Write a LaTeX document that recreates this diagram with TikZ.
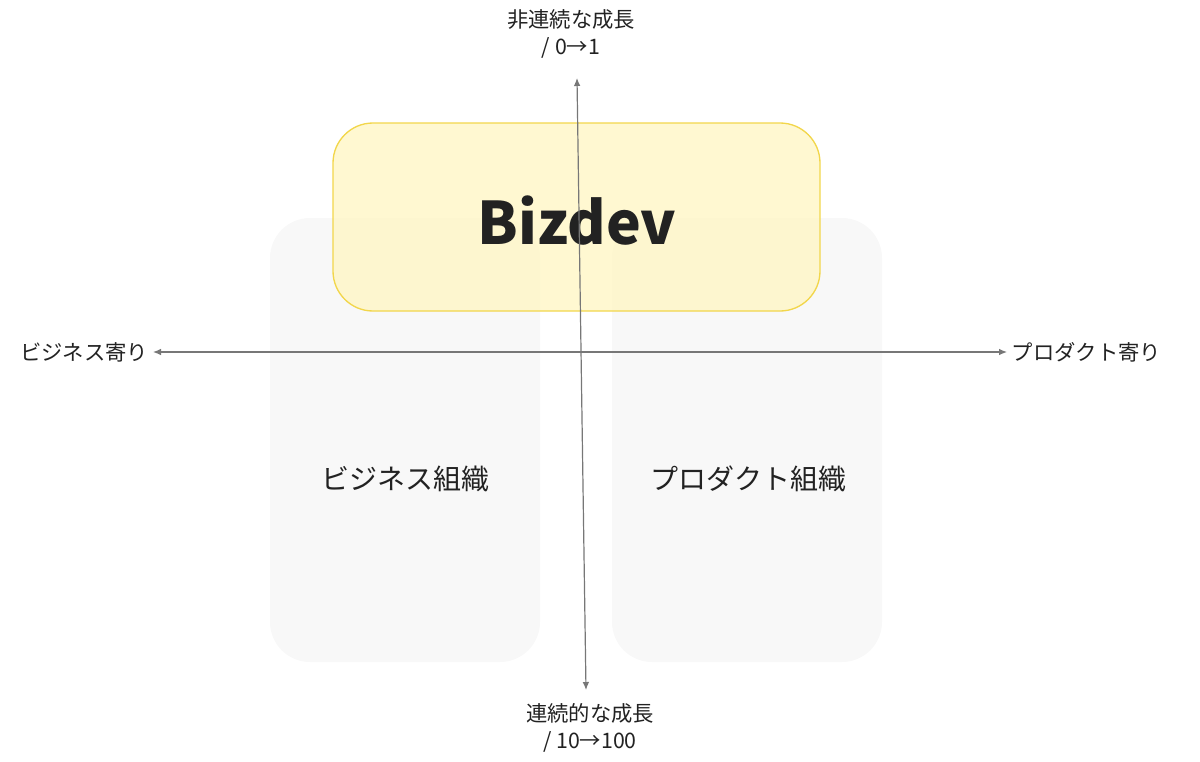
\documentclass[tikz,border=0pt]{standalone}
\usepackage{fontspec}
\setmainfont{Noto Sans CJK JP}
\usetikzlibrary{arrows.meta}
\definecolor{boxgray}{HTML}{F8F8F8}
\definecolor{yfill}{HTML}{FFF6C2}
\definecolor{yline}{HTML}{F2D64B}
\definecolor{axis}{HTML}{777777}
\definecolor{txt}{HTML}{222222}
\begin{document}
\begin{tikzpicture}[x=0.75pt,y=-0.75pt,
  graybox/.style={fill=boxgray,draw=none,rounded corners=30pt},
  axisline/.style={draw=axis,line width=0.9pt,{Latex[length=6pt,width=5pt]}-{Latex[length=6pt,width=5pt]}},
  lbl/.style={text=txt,font=\fontsize{16}{20}\selectfont,align=center},
  big/.style={text=txt,font=\fontsize{21}{25}\selectfont}]
\useasboundingbox (0,0) rectangle (1200,761);
\path[graybox] (270,218) rectangle (540,662);
\path[graybox] (612,218) rectangle (882,662);
\node[big] (bo) at (405,479) {ビジネス組織};
\node[big] (po) at (748,479) {プロダクト組織};
\draw[draw=yline,fill=yfill,fill opacity=0.75,line width=1pt,rounded corners=30pt] (333,123) rectangle (820,311);
\node[text=txt,font=\bfseries\fontsize{44}{50}\selectfont] (biz) at (577,221) {Bizdev};
\node[lbl] (top) at (571,34) {非連続な成長\\/ 0→1};
\node[lbl] (bot) at (590,728) {連続的な成長\\/ 10→100};
\node[lbl,anchor=east] (left) at (153,352) {ビジネス寄り};
\node[lbl,anchor=west] (right) at (1007,352) {プロダクト寄り};
\coordinate (vt) at (577,78);
\coordinate (vb) at (586,690);
\coordinate (hl) at (153,352);
\coordinate (hr) at (1007,352);
\draw[axisline] (vb) -- (vt);
\draw[axisline] (hl) -- (hr);
\end{tikzpicture}
\end{document}
